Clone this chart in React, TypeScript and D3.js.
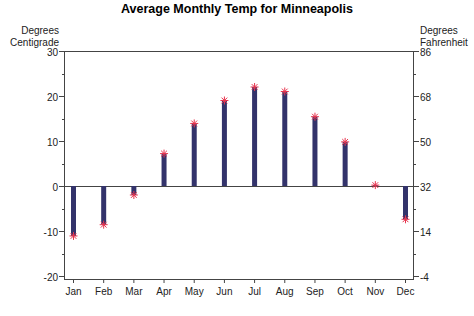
import React from "react";
import * as d3 from "d3";

const months = ["Jan", "Feb", "Mar", "Apr", "May", "Jun", "Jul", "Aug", "Sep", "Oct", "Nov", "Dec"];
const tempC = [-11.1, -8.6, -2.0, 7.2, 13.9, 19.0, 22.0, 21.0, 15.4, 9.8, 0.2, -7.4];
const ticksC = [-20, -10, 0, 10, 20, 30];
const minorC = [-15, -5, 5, 15, 25];
const ticksF = [-4, 14, 32, 50, 68, 86];
const minorF = [5, 23, 41, 59, 77];

const W = 474;
const H = 316;
const font = "'Liberation Sans', Arial, sans-serif";
const axisColor = "#444";
const textColor = "#222";
const barColor = "#33336b";
const starColor = "#e8344e";
const fs = 10;

export default function App() {
  const left = 64;
  const right = 413;
  const top = 51;
  const bottom = 279;

  const y = d3.scaleLinear().domain([-20, 30]).range([276, top]);
  const yF = d3.scaleLinear().domain([-4, 86]).range([276, top]);
  const x = d3.scalePoint<string>().domain(months).range([73, 405]);

  const star = (cx: number, cy: number, key: string) => {
    const r = 4;
    const d = r * 0.72;
    return (
      <g key={key} stroke={starColor} strokeWidth={1}>
        <line x1={cx - r} y1={cy} x2={cx + r} y2={cy} />
        <line x1={cx} y1={cy - r} x2={cx} y2={cy + r} />
        <line x1={cx - d} y1={cy - d} x2={cx + d} y2={cy + d} />
        <line x1={cx - d} y1={cy + d} x2={cx + d} y2={cy - d} />
      </g>
    );
  };

  const py = (v: number) => Math.round(v) + 0.5;

  return (
    <svg
      width={W}
      height={H}
      style={{ position: "absolute", left: 0, top: 0, background: "#fff" }}
      fontFamily={font}
    >
      <text x={237} y={13} textAnchor="middle" fontSize={12.5} fontWeight="bold" fill="#000">
        Average Monthly Temp for Minneapolis
      </text>

      {/* axis captions */}
      <g fontSize={fs} fill={textColor}>
        <text x={59} y={34} textAnchor="end">Degrees</text>
        <text x={59} y={45.5} textAnchor="end">Centigrade</text>
        <text x={420} y={34} textAnchor="start">Degrees</text>
        <text x={420} y={45.5} textAnchor="start">Fahrenheit</text>
      </g>

      {/* frame */}
      <g stroke={axisColor} strokeWidth={1} fill="none">
        <line x1={left + 0.5} y1={top} x2={left + 0.5} y2={bottom + 0.5} />
        <line x1={right + 0.5} y1={top} x2={right + 0.5} y2={bottom + 0.5} />
        <line x1={left} y1={top + 0.5} x2={right + 1} y2={top + 0.5} />
        <line x1={left} y1={bottom + 0.5} x2={right + 1} y2={bottom + 0.5} />
      </g>

      {/* left axis */}
      <g fontSize={fs} fill={textColor}>
        {ticksC.map((t) => (
          <g key={"c" + t}>
            <line x1={left - 5} x2={left} y1={py(y(t))} y2={py(y(t))} stroke={axisColor} />
            <text x={left - 6} y={y(t) + 5} textAnchor="end">{t}</text>
          </g>
        ))}
        {minorC.map((t) => (
          <line key={"mc" + t} x1={left - 2} x2={left} y1={py(y(t))} y2={py(y(t))} stroke={axisColor} />
        ))}
      </g>

      {/* right axis */}
      <g fontSize={fs} fill={textColor}>
        {ticksF.map((t) => (
          <g key={"f" + t}>
            <line x1={right + 1} x2={right + 6} y1={py(yF(t))} y2={py(yF(t))} stroke={axisColor} />
            <text x={right + 7} y={yF(t) + 5} textAnchor="start">{t}</text>
          </g>
        ))}
        {minorF.map((t) => (
          <line key={"mf" + t} x1={right + 1} x2={right + 3} y1={py(yF(t))} y2={py(yF(t))} stroke={axisColor} />
        ))}
      </g>

      {/* bottom axis */}
      <g fontSize={fs} fill={textColor}>
        {months.map((m) => (
          <g key={m}>
            <line x1={(x(m) ?? 0) + 0.5} x2={(x(m) ?? 0) + 0.5} y1={bottom} y2={bottom + 4} stroke={axisColor} />
            <text x={(x(m) ?? 0) + 0.5} y={294.5} textAnchor="middle">{m}</text>
          </g>
        ))}
      </g>

      {/* zero reference line */}
      <line x1={left} x2={right} y1={py(y(0))} y2={py(y(0))} stroke={axisColor} strokeWidth={1} />

      {/* needles */}
      {months.map((m, i) => {
        const cx = (x(m) ?? 0) + 0.5;
        const y0 = y(0);
        const y1 = y(tempC[i]);
        return (
          <rect
            key={"b" + m}
            x={cx - 2.5}
            y={Math.min(y0, y1)}
            width={5}
            height={Math.abs(y1 - y0)}
            fill={barColor}
          />
        );
      })}

      {/* markers */}
      {months.map((m, i) => star((x(m) ?? 0) + 0.5, y(tempC[i]), "s" + m))}
    </svg>
  );
}
